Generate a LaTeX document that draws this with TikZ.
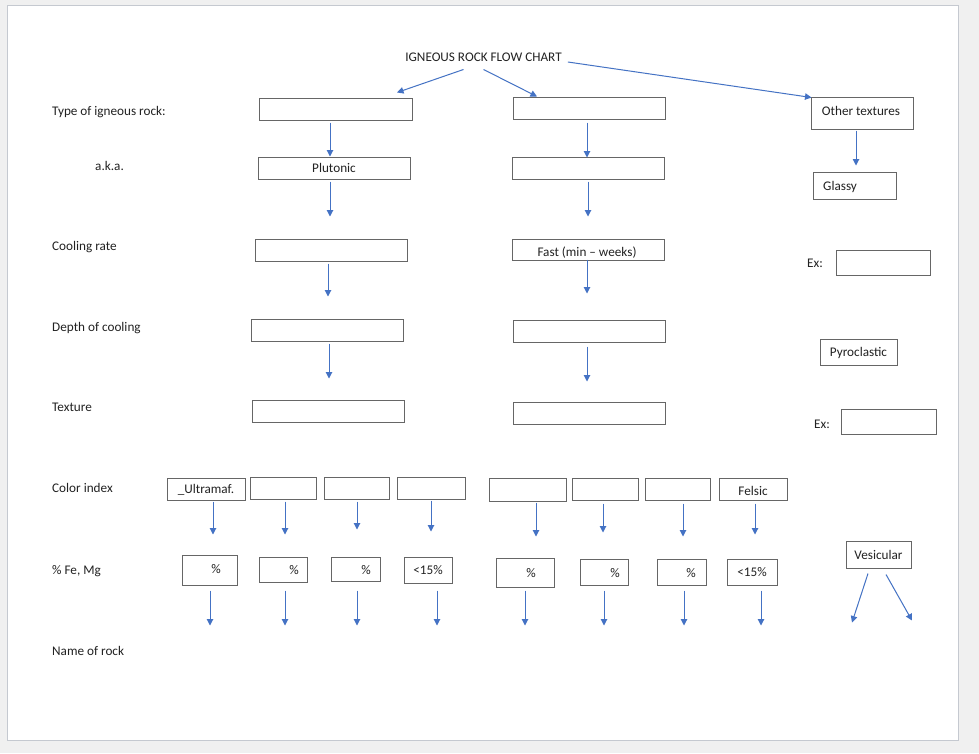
\documentclass[tikz,border=0pt]{standalone}
\usepackage{fontspec}
\setmainfont{Carlito}
\usetikzlibrary{arrows.meta}
\definecolor{arrowblue}{HTML}{4472C4}
\definecolor{pagegray}{HTML}{F0F0F0}
\definecolor{pageedge}{HTML}{C5C9D0}
\definecolor{boxedge}{HTML}{666666}
\definecolor{txt}{HTML}{222222}
\begin{document}
\begin{tikzpicture}[x=1pt,y=-1pt,
  every node/.style={font=\fontsize{13.2}{15}\selectfont, text=txt, text depth=0pt},
  box/.style={draw=boxedge, line width=1pt, fill=white, inner sep=0pt},
  lbl/.style={anchor=west, inner sep=0pt},
  plain/.style={inner sep=0pt},
  arr/.style={draw=arrowblue, line width=1pt, -{Triangle[length=6.5pt,width=6.5pt]}}]
% page
\fill[pagegray] (0,0) rectangle (979,753);
\draw[pageedge, fill=white, line width=1pt] (7,5) rectangle (958,740);
\useasboundingbox (0,0) rectangle (979,753);

% title
\node[plain] (title) at (483.5,57) {IGNEOUS ROCK FLOW CHART};

% row labels
\node[lbl] (L1) at (52,111) {Type of igneous rock:};
\node[lbl] (L2) at (95,166) {a.k.a.};
\node[lbl] (L3) at (52,246) {Cooling rate};
\node[lbl] (L4) at (52,327) {Depth of cooling};
\node[lbl] (L5) at (52,407) {Texture};
\node[lbl] (L6) at (52,488) {Color index};
\node[lbl] (L7) at (52,570) {\% Fe, Mg};
\node[lbl] (L8) at (52,651) {Name of rock};

% column 1
\node[box, minimum width=153, minimum height=22] (t1) at (335.5,109) {};
\node[box, minimum width=152, minimum height=22] (a1) at (334,168) {Plutonic};
\node[box, minimum width=152, minimum height=22] (c1) at (331,250) {};
\node[box, minimum width=152, minimum height=22] (d1) at (327,330) {};
\node[box, minimum width=152, minimum height=22] (x1) at (328,411) {};

% column 2
\node[box, minimum width=152, minimum height=22] (t2) at (589,108) {};
\node[box, minimum width=152, minimum height=22] (a2) at (588,168) {};
\node[box, minimum width=152, minimum height=21] (c2) at (588,249.5) {};
\node[plain] (c2t) at (587,252) {Fast (min – weeks)};
\node[box, minimum width=152, minimum height=22] (d2) at (589,331) {};
\node[box, minimum width=152, minimum height=22] (x2) at (589,413) {};

% right column
\node[box, minimum width=102, minimum height=32] (ot) at (862,113) {};
\node[plain] (ott) at (861,111) {Other textures};
\node[box, minimum width=83, minimum height=27] (gl) at (854.5,185.5) {};
\node[plain, anchor=west] (glt) at (823,186) {Glassy};
\node[plain, anchor=west] (ex1l) at (807,263) {Ex:};
\node[box, minimum width=94, minimum height=25] (ex1) at (883,262.5) {};
\node[box, minimum width=77, minimum height=26] (py) at (858.5,352) {Pyroclastic};
\node[plain, anchor=west] (ex2l) at (814,424) {Ex:};
\node[box, minimum width=95, minimum height=25] (ex2) at (888.5,421.5) {};
\node[box, minimum width=65, minimum height=27] (ve) at (878.5,554.5) {Vesicular};

% color index row
\node[box, minimum width=78, minimum height=22] (ci1) at (206,489) {\_Ultramaf.};
\node[box, minimum width=66, minimum height=22] (ci2) at (283,488) {};
\node[box, minimum width=65, minimum height=22] (ci3) at (356.5,488) {};
\node[box, minimum width=68, minimum height=22] (ci4) at (431,488) {};
\node[box, minimum width=77, minimum height=23] (ci5) at (527.5,489.5) {};
\node[box, minimum width=66, minimum height=22] (ci6) at (605,489) {};
\node[box, minimum width=65, minimum height=22] (ci7) at (678,489) {};
\node[box, minimum width=68, minimum height=22] (ci8) at (753,489) {};
\node[plain] (ci8t) at (753,491) {Felsic};

% % Fe, Mg row
\node[box, minimum width=55, minimum height=30] (p1) at (209.5,570) {};
\node[box, minimum width=48, minimum height=25] (p2) at (283,569.5) {};
\node[box, minimum width=49, minimum height=24] (p3) at (355.5,569) {};
\node[box, minimum width=48, minimum height=26] (p4) at (428,570) {<15\%};
\node[box, minimum width=58, minimum height=29] (p5) at (525,572.5) {};
\node[box, minimum width=48, minimum height=26] (p6) at (604,572) {};
\node[box, minimum width=49, minimum height=26] (p7) at (681.5,572) {};
\node[box, minimum width=50, minimum height=26] (p8) at (752,572) {<15\%};
\node[plain] (p1t) at (216,569) {\%};
\node[plain] (p2t) at (294,570) {\%};
\node[plain] (p3t) at (366,570) {\%};
\node[plain] (p5t) at (531,573) {\%};
\node[plain] (p6t) at (615,573) {\%};
\node[plain] (p7t) at (691,573) {\%};

% title arrows
\draw[arr] ([xshift=-20pt,yshift=-8pt]title.south) -- ([xshift=61.5pt,yshift=5pt]t1.north);
\draw[arr] ([xshift=0pt,yshift=-8pt]title.south) -- ([xshift=-52pt]t2.north);
\draw[arr] ([xshift=6pt,yshift=-5pt]title.east) -- ([xshift=1pt,yshift=-1pt]ot.north west);

% column 1 arrows
\draw[arr] ([xshift=-5.5pt,yshift=-2pt]t1.south) -- ([xshift=-4pt]a1.north);
\draw[arr] ([xshift=-4pt,yshift=-2pt]a1.south) -- ([xshift=-1pt,yshift=22pt]c1.north);
\draw[arr] ([xshift=-3pt,yshift=-2pt]c1.south) -- ([xshift=1pt,yshift=22pt]d1.north);
\draw[arr] ([xshift=2pt,yshift=-2pt]d1.south) -- ([xshift=1pt,yshift=21pt]x1.north);

% column 2 arrows
\draw[arr] ([xshift=-2pt,yshift=-3pt]t2.south) -- ([xshift=-1pt,yshift=-1pt]a2.north);
\draw[arr] ([xshift=0pt,yshift=-2pt]a2.south) -- ([xshift=0pt,yshift=22pt]c2.north);
\draw[arr] ([xshift=-1pt,yshift=1pt]c2.south) -- ([xshift=-2pt,yshift=26pt]d2.north);
\draw[arr] ([xshift=-2pt,yshift=-4pt]d2.south) -- ([xshift=-2pt,yshift=20pt]x2.north);

% right column arrow
\draw[arr] ([xshift=-6pt,yshift=-1pt]ot.south) -- ([xshift=1.5pt,yshift=6pt]gl.north);

% color index -> % arrows
\draw[arr] ([xshift=7pt,yshift=-1pt]ci1.south) -- ([xshift=3.5pt,yshift=20pt]p1.north);
\draw[arr] ([xshift=2pt,yshift=-2pt]ci2.south) -- ([xshift=2pt,yshift=22pt]p2.north);
\draw[arr] ([xshift=0.5pt,yshift=-2pt]ci3.south) -- ([xshift=1.5pt,yshift=27pt]p3.north);
\draw[arr] ([xshift=0pt,yshift=-1pt]ci4.south) -- ([xshift=3pt,yshift=25pt]p4.north);
\draw[arr] ([xshift=8.5pt,yshift=-1pt]ci5.south) -- ([xshift=11pt,yshift=21pt]p5.north);
\draw[arr] ([xshift=-2pt,yshift=-3pt]ci6.south) -- ([xshift=-1pt,yshift=26pt]p6.north);
\draw[arr] ([xshift=5pt,yshift=-3pt]ci7.south) -- ([xshift=1.5pt,yshift=22pt]p7.north);
\draw[arr] ([xshift=2pt,yshift=-3pt]ci8.south) -- ([xshift=3pt,yshift=24pt]p8.north);

% % -> name arrows
\draw[arr] ([xshift=0.5pt,yshift=-5pt]p1.south) -- ++(0,35);
\draw[arr] ([xshift=2pt,yshift=-8pt]p2.south) -- ++(0,35);
\draw[arr] ([xshift=1.5pt,yshift=-9pt]p3.south) -- ++(0,35);
\draw[arr] ([xshift=9pt,yshift=-7pt]p4.south) -- ++(0,35);
\draw[arr] ([xshift=0pt,yshift=-3pt]p5.south) -- ++(0,35);
\draw[arr] ([xshift=0pt,yshift=-5pt]p6.south) -- ++(0,35);
\draw[arr] ([xshift=2.5pt,yshift=-5pt]p7.south) -- ++(0,35);
\draw[arr] ([xshift=9pt,yshift=-5pt]p8.south) -- ++(0,35);

% vesicular arrows
\draw[arr] ([xshift=-10.5pt,yshift=-5pt]ve.south) -- ++(-16,49);
\draw[arr] ([xshift=7.5pt,yshift=-6pt]ve.south) -- ++(26,46);
\end{tikzpicture}
\end{document}
